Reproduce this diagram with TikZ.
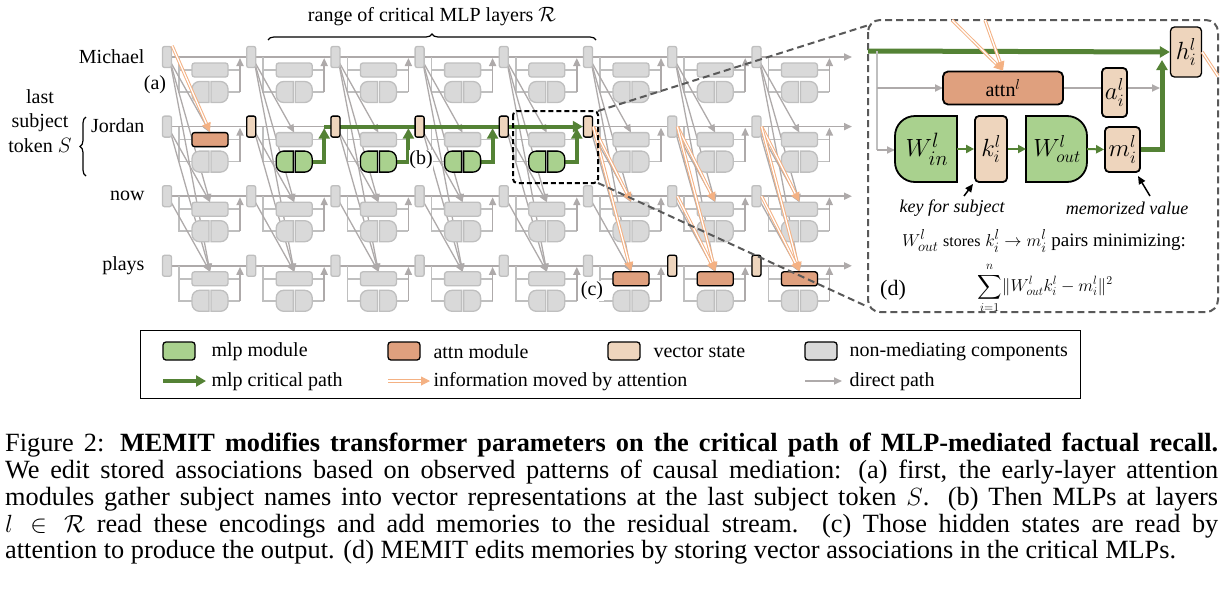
\documentclass[tikz,border=0pt]{standalone}
\usepackage{amsmath,amssymb}
\usepackage{fontspec}
\setmainfont{Liberation Serif}
\usetikzlibrary{arrows.meta,decorations.pathreplacing,calc}
\definecolor{gfill}{HTML}{D9D9D9}
\definecolor{gline}{HTML}{BFBFBF}
\definecolor{garr}{HTML}{AEAAAA}
\definecolor{mlpg}{HTML}{A9D18E}
\definecolor{darkg}{HTML}{548235}
\definecolor{attno}{HTML}{DFA07E}
\definecolor{tan}{HTML}{EED5BD}
\definecolor{oarrc}{HTML}{F4B183}
\tikzset{
 gl/.style={draw=gline,line width=1.7pt},
 ga/.style={draw=garr,line width=1.7pt,-{Triangle[length=8pt,width=7pt]}},
 gvec/.style={draw=gline,fill=gfill,line width=1.3pt,rounded corners=2pt,minimum width=9pt,minimum height=21pt,inner sep=0pt},
 gbox/.style={draw=gline,fill=gfill,line width=1.3pt,rounded corners=2.5pt,minimum width=36pt,minimum height=14pt,inner sep=0pt},
 tvec/.style={draw=black,fill=tan,line width=1.3pt,rounded corners=2pt,minimum width=9pt,minimum height=21pt,inner sep=0pt},
 obox/.style={draw=black,fill=attno,line width=1.3pt,rounded corners=2.5pt,minimum width=36pt,minimum height=14pt,inner sep=0pt},
 grnarr/.style={draw=darkg,line width=4pt,-{Triangle[length=10pt,width=11pt]}},
 oarr/.style={draw=oarrc,double=white,double distance=1.3pt,line width=1pt,-{Triangle[length=9pt,width=9pt]}},
 lbl/.style={font=\fontsize{20}{24}\selectfont},
}
\newcommand{\mlpshape}[4]{% x y fill draw
 \draw[fill=#3,draw=#4,line width=1.3pt] (#1-1,#2-10.5) {[rounded corners=7.5pt] -- (#1-18,#2-10.5) -- (#1-18,#2+10.5)} -- (#1-1,#2+10.5) -- cycle;
 \draw[fill=#3,draw=#4,line width=1.3pt] (#1+1,#2-10.5) {[rounded corners=7.5pt] -- (#1+18,#2-10.5) -- (#1+18,#2+10.5)} -- (#1+1,#2+10.5) -- cycle;}
\begin{document}
\begin{tikzpicture}[x=1pt,y=-1pt]
\useasboundingbox (0,0) rectangle (1224,592);
% main lines
\foreach \r in {0,...,3}{\pgfmathsetmacro\Y{57+69.6*\r}
 \draw[ga] (170,\Y) -- (852,\Y);}
% cell lines
\foreach \c in {0,...,7}{\foreach \r in {0,...,3}{
 \pgfmathsetmacro\X{167+84.2*\c}\pgfmathsetmacro\Y{57+69.6*\r}
 \draw[gl] (\X+12,\Y) -- (\X+12,\Y+35) -- (\X+26,\Y+35);
 \draw[gl] (\X+12,\Y+13) -- (\X+26,\Y+13);
 \draw[gl] (\X+60,\Y+13) -- (\X+73,\Y+13);
 \draw[gl] (\X+60,\Y+35) -- (\X+73,\Y+35);
 \draw[ga] (\X+73,\Y+35) -- (\X+73,\Y+1);
}}
% diagonals
\foreach \c in {0,...,7}{\foreach \r/\rr in {0/1,1/2,2/3}{
 \pgfmathsetmacro\X{167+84.2*\c}\pgfmathsetmacro\Y{57+69.6*\r}
 \foreach \s in {\rr,...,3}{\pgfmathsetmacro\YY{57+69.6*\s}
 \draw[ga,line width=1.3pt] (\X+3,\Y+4) -- (\X+43,\YY+6);}}}
% boxes
\foreach \c in {0,...,7}{\foreach \r in {0,...,3}{
 \pgfmathsetmacro\X{167+84.2*\c}\pgfmathsetmacro\Y{57+69.6*\r}
 \node[gvec] (v\c\r) at (\X,\Y) {};
 \node[gbox] (at\c\r) at (\X+43,\Y+13) {};
 \coordinate (ml\c\r) at (\X+43,\Y+35);
 \mlpshape{\X+43}{\Y+35}{gfill}{gline}
}}
% highlights
\node[obox] (A0) at (at01) {};
\foreach \c in {5,6,7}{\node[obox] (C\c) at (at\c3) {};}
\foreach \c in {1,...,4}{
 \pgfmathsetmacro\X{167+84.2*\c}
 \draw[grnarr] (\X+60,161.6) -- (\X+73,161.6) -- (\X+73,128.6);
 \mlpshape{\X+43}{161.6}{mlpg}{black}}
\draw[grnarr] (324.4,126.6) -- (v51.west);
\foreach \n in {v11,v21,v31,v41,v51,v63,v73}{\node[tvec] at (\n) {};}
% attention arrows
\draw[oarr] (v00.north east) -- (at01.north);
\foreach \c in {5,6,7}{
 \draw[oarr] (v\c1.east) -- (at\c2.north);
 \draw[oarr] (v\c1.east) -- (at\c3.north);}
\foreach \c in {6,7}{\draw[oarr] (v\c2.east) -- (at\c3.north);}
% zoom box
\draw[black,dash pattern=on 5pt off 3pt,line width=2pt,rounded corners=4pt] (513,111) rectangle (598,183);
\draw[black!65,dash pattern=on 7pt off 4pt,line width=2pt] (598,111) -- (872,24);
\draw[black!65,dash pattern=on 7pt off 4pt,line width=2pt] (598,183) -- (866,306);
% labels
\node[lbl,anchor=east] at (148,57) {Michael};
\node[lbl,anchor=east] at (148,126) {Jordan};
\node[lbl,anchor=east] at (148,196) {now};
\node[lbl,anchor=east] at (148,266) {plays};
\node[lbl] at (155,85) {(a)};
\node[lbl,fill=white,inner sep=0.5pt] at (421,160) {(b)};
\node[lbl,fill=white,inner sep=0.5pt] at (592,291) {(c)};
\node[lbl,align=center,font=\fontsize{20}{24.5}\selectfont] at (40,121) {last\\subject\\token $S$};
\draw[decorate,decoration={brace,amplitude=6pt},line width=1.2pt] (86,176) -- (86,117);
\draw[decorate,decoration={brace,amplitude=6pt},line width=1.2pt] (268,40) -- (596,40);
\node[lbl] at (432,17) {range of critical MLP layers $\mathcal{R}$};
% inset
\draw[black!65,dash pattern=on 7pt off 4pt,line width=2pt,rounded corners=12pt,fill=white] (868,20) rectangle (1218,312);
\node[tvec,minimum width=31pt,minimum height=50pt,rounded corners=4pt,font=\fontsize{24}{26}\selectfont] (h) at (1186,52) {$h_i^l$};
\draw[grnarr,line width=5pt] (868,51) -- (h.west);
\draw[gl] (877,51) -- (877,150);
\draw[ga] (877,150) -- (895,150);
\draw[ga] (877,88) -- (943,88);
\draw[ga] (1063,88) -- (1160,88);
\node[obox,minimum width=120pt,minimum height=33pt,rounded corners=5pt,line width=1.8pt,font=\fontsize{20}{22}\selectfont] (att) at (1003,88) {attn$^l$};
\node[tvec,minimum width=25pt,minimum height=49pt,rounded corners=4pt,line width=1.8pt,font=\fontsize{24}{26}\selectfont] (a) at (1114.5,92.5) {$a_i^l$};
\node[tvec,minimum width=32pt,minimum height=66pt,rounded corners=4pt,line width=1.8pt,font=\fontsize{24}{26}\selectfont] (k) at (991,149) {$k_i^l$};
\node[tvec,minimum width=35pt,minimum height=45pt,rounded corners=4pt,line width=1.8pt,font=\fontsize{24}{26}\selectfont] (m) at (1122.5,149.5) {$m_i^l$};
\draw[fill=mlpg,draw=black,line width=1.8pt] (957,116) {[rounded corners=20pt] -- (895,116) -- (895,182)} -- (957,182) -- cycle;
\draw[fill=mlpg,draw=black,line width=1.8pt] (1026,116) {[rounded corners=20pt] -- (1087,116) -- (1087,182)} -- (1026,182) -- cycle;
\node[font=\fontsize{28}{30}\selectfont,inner sep=0pt] (win) at (927,149) {$W_{in}^l$};
\node[font=\fontsize{27}{30}\selectfont,inner sep=0pt] (wout) at (1057,149) {$W_{out}^l$};
\coordinate (winE) at (957,149); \coordinate (woutW) at (1026,149); \coordinate (woutE) at (1087,149);
\draw[draw=darkg,line width=2pt,-{Triangle[length=8pt,width=8pt]}] (winE) -- (k.west);
\draw[draw=darkg,line width=2pt,-{Triangle[length=8pt,width=8pt]}] (k.east) -- (woutW);
\draw[draw=darkg,line width=2pt,-{Triangle[length=8pt,width=8pt]}] (woutE) -- (m.west);
\draw[grnarr,line width=5pt] (m.east) -- (1162,149.5) -- (1162,60);
\coordinate (o1) at (952,20); \coordinate (o2) at (985,20);
\draw[oarr] (o1) -- (att.north);
\draw[oarr] (o2) -- (att.north);
\coordinate (oe) at (1218,76);
\draw[draw=oarrc,double=white,double distance=1.3pt,line width=1pt] (h.east) -- (oe);
\node[font=\fontsize{18}{20}\selectfont\itshape] (ks) at (952,208) {key for subject};
\node[font=\fontsize{18}{20}\selectfont\itshape] (mv) at (1127,208) {memorized value};
\draw[line width=1.5pt,-{Triangle[length=8pt,width=7pt]}] (964,196) -- (973,184);
\draw[line width=1.5pt,-{Triangle[length=8pt,width=7pt]}] (1150,196) -- (1138,176);
\node[font=\fontsize{19}{22}\selectfont] at (1044,241) {$W^l_{out}$ {\fontsize{16}{18}\selectfont stores} $k^l_i \to m^l_i$ pairs minimizing:};
\node[font=\fontsize{17}{20}\selectfont] at (1045,288) {$\displaystyle\sum_{i=1}^{n}\lVert W^l_{out}k^l_i - m^l_i\rVert^2$};
\node[lbl,font=\fontsize{22}{24}\selectfont] at (893,290) {(d)};
% legend
\draw[line width=1pt] (140,330) rectangle (1080,398);
\node[draw=black,fill=mlpg,line width=1.3pt,rounded corners=3pt,minimum width=32pt,minimum height=18pt] (l1) at (179,351) {};
\node[lbl,anchor=west] at (208,352) {mlp module};
\node[draw=black,fill=attno,line width=1.3pt,rounded corners=3pt,minimum width=32pt,minimum height=18pt] (l2) at (404,351) {};
\node[lbl,anchor=west] at (430,352) {attn module};
\node[draw=black,fill=tan,line width=1.3pt,rounded corners=3pt,minimum width=32pt,minimum height=18pt] (l3) at (624,351) {};
\node[lbl,anchor=west] at (650,352) {vector state};
\node[draw=black,fill=gfill,line width=1.3pt,rounded corners=3pt,minimum width=32pt,minimum height=18pt] (l4) at (821,351) {};
\node[lbl,anchor=west] at (846,352) {non-mediating components};
\coordinate (g1) at (163,381); \coordinate (g2) at (206,381);
\draw[grnarr] (g1) -- (g2);
\node[lbl,anchor=west] at (208,382) {mlp critical path};
\coordinate (o3) at (388,381); \coordinate (o4) at (430,381);
\draw[oarr] (o3) -- (o4);
\node[lbl,anchor=west] at (430,382) {information moved by attention};
\coordinate (d1) at (805,381); \coordinate (d2) at (842,381);
\draw[ga] (d1) -- (d2);
\node[lbl,anchor=west] at (846,382) {direct path};
% caption
\node[anchor=north west,inner sep=0pt,text width=1213pt,align=justify,font=\fontsize{26.3}{26.8}\selectfont] at (5,433) {Figure 2: \textbf{MEMIT modifies transformer parameters on the critical path of MLP-mediated factual recall.}\linebreak
We edit stored associations based on observed patterns of causal mediation: (a) first, the early-layer attention\linebreak
modules gather subject names into vector representations at the last subject token $S$. (b) Then MLPs at layers\linebreak
$l \in \mathcal{R}$ read these encodings and add memories to the residual stream. (c) Those hidden states are read by\linebreak
attention to produce the output. (d) MEMIT edits memories by storing vector associations in the critical MLPs.};
\end{tikzpicture}
\end{document}
